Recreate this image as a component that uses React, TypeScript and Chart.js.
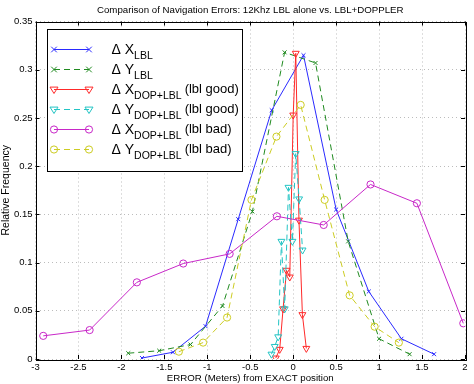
import React, { useEffect, useRef } from "react";
import { Chart, registerables } from "chart.js";

Chart.register(...registerables);

const titleText = "Comparison of Navigation Errors: 12Khz LBL alone vs. LBL+DOPPLER";
const xLabelText = "ERROR (Meters) from EXACT position";
const yLabelText = "Relative Frequency";

const xTicks = [-3, -2.5, -2, -1.5, -1, -0.5, 0, 0.5, 1, 1.5, 2];
const yTicks = [0, 0.05, 0.1, 0.15, 0.2, 0.25, 0.3, 0.35];

const dxLblX = [-1.76, -1.4, -1.02, -0.64, -0.25, 0.12, 0.5, 0.88, 1.26, 1.64];
const dxLblY = [0.001, 0.007, 0.034, 0.145, 0.258, 0.315, 0.155, 0.07, 0.021, 0.005];

const dyLblX = [-1.92, -1.56, -1.195, -0.823, -0.475, -0.1, 0.26, 0.64, 1.0, 1.355];
const dyLblY = [0.006, 0.0086, 0.015, 0.055, 0.153, 0.318, 0.307, 0.122, 0.021, 0.005];

const dxGoodX = [-0.203, -0.157, -0.118, -0.078, -0.04, 0.0, 0.03, 0.067, 0.107, 0.153];
const dxGoodY = [0.001, 0.01, 0.052, 0.092, 0.085, 0.253, 0.317, 0.144, 0.046, 0.011];

const dyGoodX = [-0.253, -0.215, -0.175, -0.137, -0.099, -0.055, -0.009, 0.029, 0.069, 0.109];
const dyGoodY = [0.005, 0.013, 0.023, 0.122, 0.052, 0.178, 0.122, 0.213, 0.166, 0.113];

const dxBadX = [-2.91, -2.37, -1.82, -1.28, -0.74, -0.19, 0.355, 0.9, 1.44, 1.98];
const dxBadY = [0.024, 0.03, 0.0795, 0.099, 0.109, 0.148, 0.139, 0.181, 0.1615, 0.037];

const dyBadX = [-1.331, -1.049, -0.77, -0.486, -0.195, 0.087, 0.366, 0.657, 0.948, 1.23];
const dyBadY = [0.0076, 0.017, 0.043, 0.165, 0.2306, 0.2635, 0.165, 0.066, 0.0335, 0.017];

const FONT = "'Liberation Sans', Arial, Helvetica, sans-serif";

type Series = {
  xs: number[];
  ys: number[];
  color: string;
  dashed: boolean;
  marker: string;
  rotation: number;
  radius: number;
  main: string;
  sub: string;
  extra: string;
};

const series: Series[] = [
  { xs: dxLblX, ys: dxLblY, color: "#2a2aff", dashed: false, marker: "crossRot", rotation: 0, radius: 2.8, main: "\u0394 X", sub: "LBL", extra: "" },
  { xs: dyLblX, ys: dyLblY, color: "#1f8a1f", dashed: true, marker: "crossRot", rotation: 0, radius: 2.8, main: "\u0394 Y", sub: "LBL", extra: "" },
  { xs: dxGoodX, ys: dxGoodY, color: "#ff2a2a", dashed: false, marker: "triangle", rotation: 180, radius: 4, main: "\u0394 X", sub: "DOP+LBL", extra: "(lbl good)" },
  { xs: dyGoodX, ys: dyGoodY, color: "#22c4c4", dashed: true, marker: "triangle", rotation: 180, radius: 4, main: "\u0394 Y", sub: "DOP+LBL", extra: "(lbl good)" },
  { xs: dxBadX, ys: dxBadY, color: "#c828c8", dashed: false, marker: "circle", rotation: 0, radius: 3.6, main: "\u0394 X", sub: "DOP+LBL", extra: "(lbl bad)" },
  { xs: dyBadX, ys: dyBadY, color: "#cccc22", dashed: true, marker: "circle", rotation: 0, radius: 3.6, main: "\u0394 Y", sub: "DOP+LBL", extra: "(lbl bad)" },
];

const DASH = [6, 4];

function drawMarker(ctx: CanvasRenderingContext2D, s: Series, x: number, y: number) {
  ctx.save();
  ctx.strokeStyle = s.color;
  ctx.lineWidth = 1;
  ctx.setLineDash([]);
  ctx.beginPath();
  if (s.marker === "crossRot") {
    const r = s.radius;
    ctx.moveTo(x - r, y - r);
    ctx.lineTo(x + r, y + r);
    ctx.moveTo(x - r, y + r);
    ctx.lineTo(x + r, y - r);
  } else if (s.marker === "triangle") {
    const r = s.radius;
    ctx.moveTo(x - r, y - r * 0.6);
    ctx.lineTo(x + r, y - r * 0.6);
    ctx.lineTo(x, y + r);
    ctx.closePath();
  } else {
    ctx.arc(x, y, s.radius, 0, Math.PI * 2);
  }
  ctx.stroke();
  ctx.restore();
}

const decorPlugin = {
  id: "decor",
  afterDraw(chart: any) {
    const ctx: CanvasRenderingContext2D = chart.ctx;
    const a = chart.chartArea;
    const xs = chart.scales.x;
    const ys = chart.scales.y;
    ctx.save();
    ctx.strokeStyle = "#000";
    ctx.lineWidth = 1;
    ctx.setLineDash([]);
    ctx.strokeRect(Math.round(a.left) + 0.5, Math.round(a.top) + 0.5, Math.round(a.right - a.left), Math.round(a.bottom - a.top));
    const tl = 4;
    ctx.beginPath();
    for (const v of xTicks) {
      const px = Math.round(xs.getPixelForValue(v)) + 0.5;
      ctx.moveTo(px, a.bottom);
      ctx.lineTo(px, a.bottom - tl);
      ctx.moveTo(px, a.top);
      ctx.lineTo(px, a.top + tl);
    }
    for (const v of yTicks) {
      const py = Math.round(ys.getPixelForValue(v)) + 0.5;
      ctx.moveTo(a.left, py);
      ctx.lineTo(a.left + tl, py);
      ctx.moveTo(a.right, py);
      ctx.lineTo(a.right - tl, py);
    }
    ctx.stroke();

    ctx.fillStyle = "#000";
    ctx.textAlign = "center";
    ctx.textBaseline = "middle";
    ctx.font = `9.7px ${FONT}`;
    const cx = (a.left + a.right) / 2;
    ctx.fillText(titleText, cx, 10);
    ctx.font = `9.7px ${FONT}`;
    ctx.fillText(xLabelText, cx, 378);
    ctx.save();
    ctx.translate(6.5, (a.top + a.bottom) / 2);
    ctx.rotate(-Math.PI / 2);
    ctx.font = `10.5px ${FONT}`;
    ctx.fillText(yLabelText, 0, 0);
    ctx.restore();

    const lx0 = 47, ly0 = 29, lx1 = 242, ly1 = 171;
    ctx.fillStyle = "#fff";
    ctx.fillRect(lx0, ly0, lx1 - lx0, ly1 - ly0);
    ctx.strokeStyle = "#000";
    ctx.strokeRect(lx0 + 0.5, ly0 + 0.5, lx1 - lx0, ly1 - ly0);
    series.forEach((s, i) => {
      const cy = 49.5 + i * 20;
      ctx.save();
      ctx.strokeStyle = s.color;
      ctx.lineWidth = 1;
      ctx.setLineDash(s.dashed ? DASH : []);
      ctx.beginPath();
      ctx.moveTo(54, cy);
      ctx.lineTo(89, cy);
      ctx.stroke();
      ctx.restore();
      drawMarker(ctx, s, 54, cy);
      drawMarker(ctx, s, 89, cy);
      ctx.fillStyle = "#000";
      ctx.textAlign = "left";
      ctx.textBaseline = "alphabetic";
      const base = cy + 4.5;
      ctx.font = `14px ${FONT}`;
      let tx = 111.5;
      ctx.fillText(s.main, tx, base);
      tx += ctx.measureText(s.main).width;
      ctx.font = `10.5px ${FONT}`;
      ctx.fillText(s.sub, tx, base + 5);
      tx += ctx.measureText(s.sub).width;
      if (s.extra) {
        ctx.font = `13px ${FONT}`;
        ctx.fillText(s.extra, tx + 3, base - 1.5);
      }
    });
    ctx.restore();
  },
};

export default function App() {
  const ref = useRef<HTMLCanvasElement | null>(null);
  useEffect(() => {
    document.body.style.margin = "0";
    const canvas = ref.current!;
    const datasets = series.map((s, i) => ({
      data: s.xs.map((x, k) => ({ x, y: s.ys[k] })),
      showLine: true,
      borderColor: s.color,
      backgroundColor: "rgba(0,0,0,0)",
      borderWidth: 1,
      borderDash: s.dashed ? DASH : [],
      pointStyle: s.marker,
      pointRotation: s.rotation,
      pointRadius: s.radius,
      pointBorderWidth: 1,
      pointBorderColor: s.color,
      pointBackgroundColor: "rgba(0,0,0,0)",
      order: series.length - i,
      tension: 0,
    }));
    const chart = new Chart(canvas, {
      type: "scatter",
      data: { datasets },
      options: {
        animation: false,
        responsive: false,
        devicePixelRatio: 1,
        layout: { padding: { top: 21.5, right: 9, left: 0, bottom: 0 } },
        plugins: { legend: { display: false }, title: { display: false }, tooltip: { enabled: false } },
        scales: {
          x: {
            type: "linear",
            min: -3,
            max: 2,
            afterBuildTicks: (sc: any) => {
              sc.ticks = xTicks.map((v) => ({ value: v }));
            },
            afterFit: (sc: any) => {
              sc.height = 25;
            },
            ticks: {
              autoSkip: false,
              maxRotation: 0,
              padding: 3,
              color: "#000",
              font: { family: FONT, size: 9.5 },
              callback: (v: any) => String(v),
            },
            grid: { color: "#bcbcbc", lineWidth: 1, drawTicks: false },
            border: { display: false, dash: [1, 3] },
          },
          y: {
            type: "linear",
            min: 0,
            max: 0.35,
            afterBuildTicks: (sc: any) => {
              sc.ticks = yTicks.map((v) => ({ value: v }));
            },
            afterFit: (sc: any) => {
              sc.width = 35.5;
            },
            ticks: {
              autoSkip: false,
              padding: 3,
              color: "#000",
              font: { family: FONT, size: 9.5 },
              callback: (v: any) => String(v),
            },
            grid: { color: "#bcbcbc", lineWidth: 1, drawTicks: false },
            border: { display: false, dash: [1, 3] },
          },
        },
      } as any,
      plugins: [decorPlugin],
    });
    return () => chart.destroy();
  }, []);
  return (
    <div style={{ position: "absolute", left: 0, top: 0, width: 474, height: 384, background: "#fff" }}>
      <canvas ref={ref} width={474} height={384} />
    </div>
  );
}
